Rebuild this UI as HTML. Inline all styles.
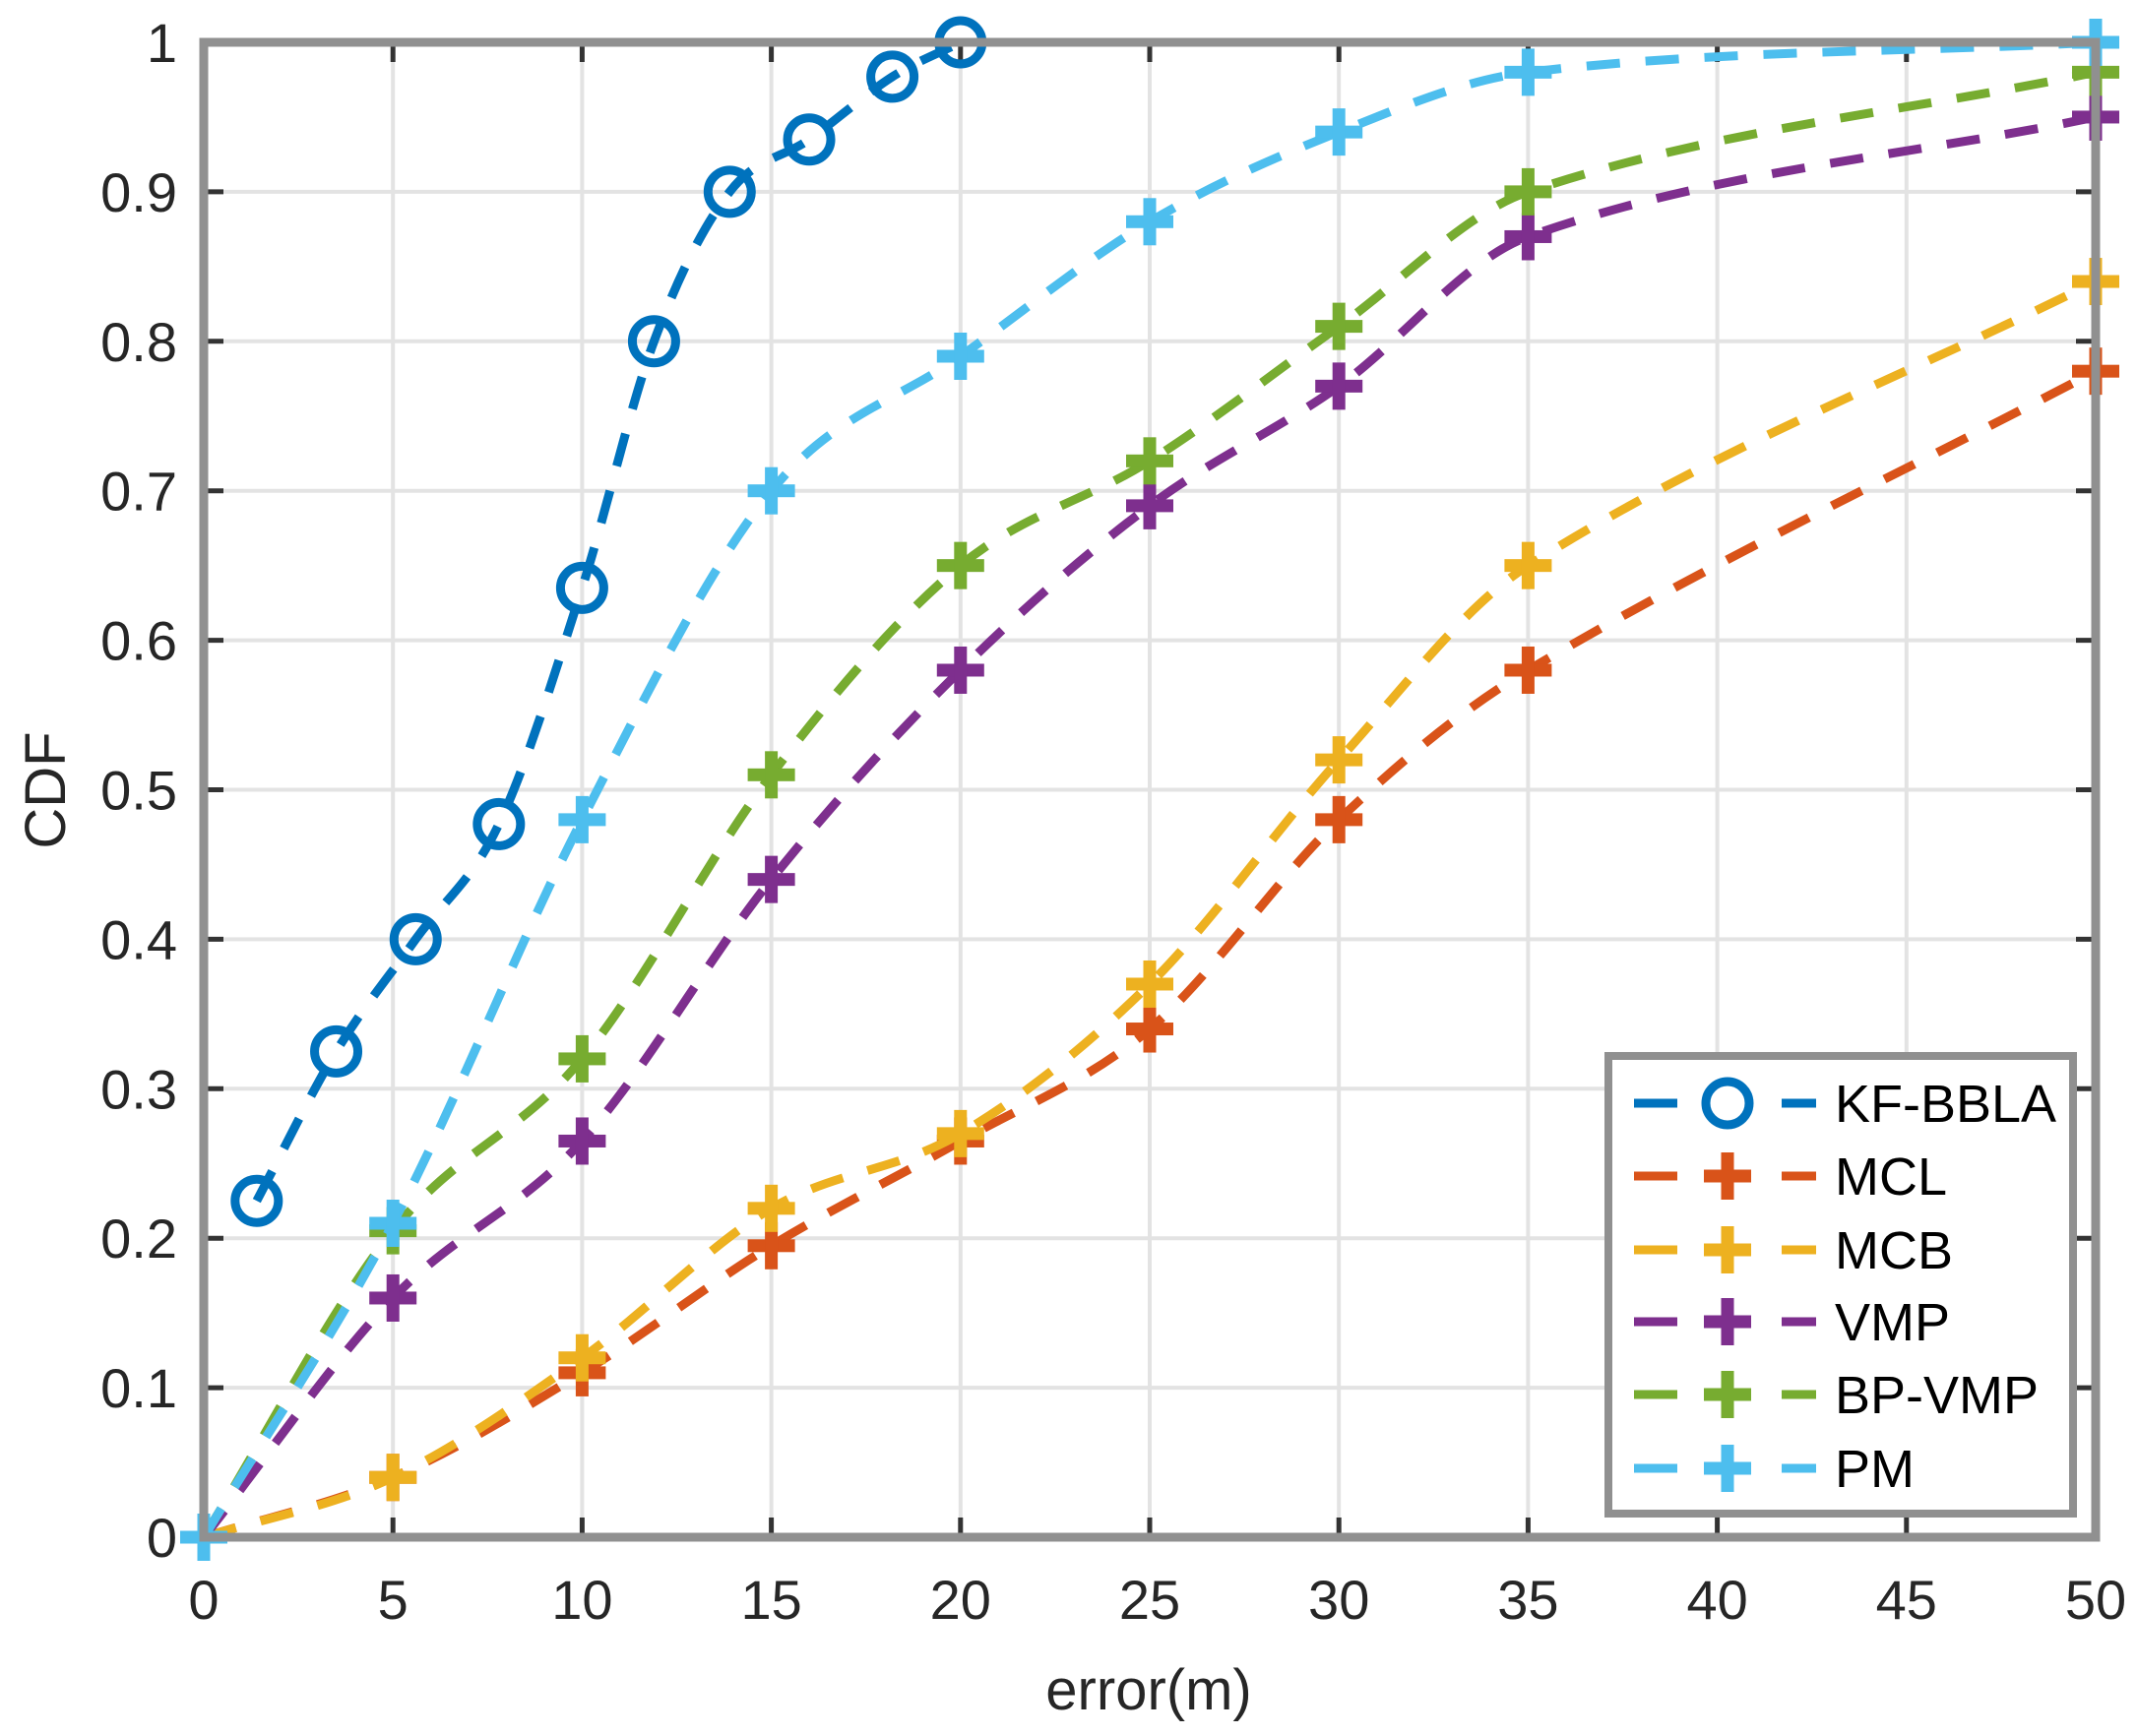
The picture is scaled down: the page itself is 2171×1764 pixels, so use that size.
<!DOCTYPE html>
<html><head><meta charset="utf-8"><style>
html,body{margin:0;padding:0;background:#fff;}
svg{display:block;font-family:"Liberation Sans",Arial,sans-serif;}
</style></head><body>
<svg id="s" width="2171" height="1764" viewBox="0 0 2171 1764" xmlns="http://www.w3.org/2000/svg">
<rect width="2171" height="1764" fill="#fff"/>
<g id="grid" stroke="#e3e3e3" stroke-width="4"></g>
<g id="ticks" stroke="#333" stroke-width="5"></g>
<g id="series"></g>
<rect x="207" y="43" width="1922" height="1519" fill="none" stroke="#909090" stroke-width="9"/>
<g id="labels" font-size="56" fill="#262626"></g>
<text x="1167" y="1737" font-size="58" fill="#262626" text-anchor="middle">error(m)</text>
<text transform="translate(66,803) rotate(-90)" font-size="58" fill="#262626" text-anchor="middle">CDF</text>
<g id="legend"></g>
</svg>
<script>
const NS="http://www.w3.org/2000/svg";
const X0=207,X1=2129,Y0=1562,Y1=43;
const sx=v=>X0+v/50*(X1-X0), sy=v=>Y0-v*(Y0-Y1);
function el(p,t,a,txt){const e=document.createElementNS(NS,t);for(const k in a)e.setAttribute(k,a[k]);if(txt!==undefined)e.textContent=txt;p.appendChild(e);return e;}
const G=document.getElementById('grid'),T=document.getElementById('ticks'),L=document.getElementById('labels');
for(let i=0;i<=10;i++){
 const x=sx(i*5),y=sy(i/10);
 el(G,'line',{x1:x,y1:Y1,x2:x,y2:Y0});
 el(G,'line',{x1:X0,y1:y,x2:X1,y2:y});
 el(T,'line',{x1:x,y1:Y0,x2:x,y2:Y0-20});
 el(T,'line',{x1:x,y1:Y1,x2:x,y2:Y1+20});
 el(T,'line',{x1:X0,y1:y,x2:X0+20,y2:y});
 el(T,'line',{x1:X1,y1:y,x2:X1-20,y2:y});
 el(L,'text',{x:x,y:1645,'text-anchor':'middle'},String(i*5));
 const lab=i==0?'0':i==10?'1':'0.'+i;
 el(L,'text',{x:180,y:y+20,'text-anchor':'end'},lab);
}
const xs=[0,5,10,15,20,25,30,35,50];
const data=[
 {n:'KF-BBLA',c:'#0072BD',m:'o',p:[[1.4,0.225],[3.5,0.325],[5.6,0.40],[7.8,0.477],[10,0.635],[11.9,0.80],[13.9,0.90],[16,0.935],[18.2,0.977],[20,1.0]]},
 {n:'MCL',c:'#D95319',m:'+',y:[0,0.04,0.11,0.195,0.265,0.34,0.48,0.58,0.78]},
 {n:'MCB',c:'#EDB120',m:'+',y:[0,0.04,0.12,0.22,0.27,0.37,0.52,0.65,0.84]},
 {n:'VMP',c:'#7E2F8E',m:'+',y:[0,0.16,0.265,0.44,0.58,0.69,0.77,0.87,0.95]},
 {n:'BP-VMP',c:'#77AC30',m:'+',y:[0,0.205,0.32,0.51,0.65,0.72,0.81,0.90,0.98]},
 {n:'PM',c:'#4DBEEE',m:'+',y:[0,0.21,0.48,0.70,0.79,0.88,0.94,0.98,1.0]}
];
function smoothPath(pts){
 const n=pts.length,m=[];
 for(let i=0;i<n;i++){
  const a=pts[Math.max(0,i-1)],b=pts[Math.min(n-1,i+1)];
  m.push((b[1]-a[1])/(b[0]-a[0]));
 }
 let d='M'+pts[0][0]+','+pts[0][1];
 for(let i=0;i<n-1;i++){
  const p1=pts[i],p2=pts[i+1],h=(p2[0]-p1[0])/3;
  d+=' C'+(p1[0]+h)+','+(p1[1]+m[i]*h)+' '+(p2[0]-h)+','+(p2[1]-m[i+1]*h)+' '+p2[0]+','+p2[1];
 }
 return d;
}
function marker(g,m,x,y,c){
 if(m=='o') el(g,'circle',{cx:x,cy:y,r:22,fill:'none',stroke:c,'stroke-width':9});
 else{el(g,'rect',{x:x-24,y:y-6.5,width:48,height:13,fill:c});el(g,'rect',{x:x-6.5,y:y-24,width:13,height:48,fill:c});}
}
const S=document.getElementById('series');
data.forEach(s=>{
 const pts=s.p?s.p.map(q=>[sx(q[0]),sy(q[1])]):xs.map((x,i)=>[sx(x),sy(s.y[i])]);
 const g=el(S,'g',{});
 el(g,'path',{d:smoothPath(pts),fill:'none',stroke:s.c,'stroke-width':9,'stroke-dasharray':'34 26'});
 pts.forEach(p=>marker(g,s.m,p[0],p[1],s.c));
});
const Lg=document.getElementById('legend');
el(Lg,'rect',{x:1634,y:1073,width:472,height:465,fill:'#fff',stroke:'#909090','stroke-width':8});
const rows=[1121,1195,1270,1343,1417,1492];
data.forEach((s,i)=>{
 const y=rows[i];
 el(Lg,'line',{x1:1660,y1:y,x2:1704,y2:y,stroke:s.c,'stroke-width':9});
 el(Lg,'line',{x1:1810,y1:y,x2:1845,y2:y,stroke:s.c,'stroke-width':9});
 marker(Lg,s.m,1755,y,s.c);
 el(Lg,'text',{x:1864,y:y+19,'font-size':54,fill:'#000'},s.n);
});
</script>
</body></html>
